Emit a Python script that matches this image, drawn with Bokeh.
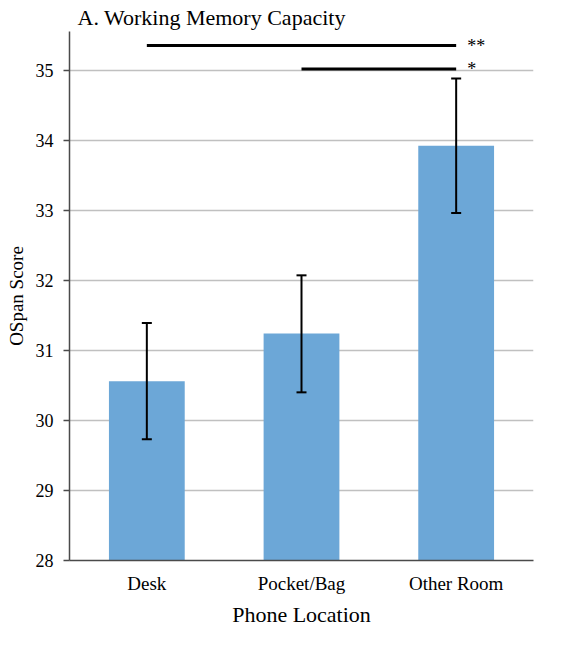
from bokeh.plotting import figure
from bokeh.models import ColumnDataSource, Range1d, FixedTicker, Whisker, TeeHead, FactorRange
from bokeh.embed import file_html
from bokeh.resources import INLINE

# ---- data ----
categories = ["Desk", "Pocket/Bag", "Other Room"]
ospan_mean = [30.56, 31.24, 33.92]
ospan_upper = [31.39, 32.07, 34.88]
ospan_lower = [29.73, 30.40, 32.96]
y_ticks = [28, 29, 30, 31, 32, 33, 34, 35]

sig_start = ["Desk", "Pocket/Bag"]
sig_end = ["Other Room", "Other Room"]
sig_level = [35.35, 35.015]
sig_label = ["**", "*"]

FONT = "Liberation Serif, serif"

p = figure(
    x_range=FactorRange(factors=categories, range_padding=0),
    y_range=Range1d(28, 35.55),
    width=556, height=629,
    output_backend="svg", toolbar_location=None,
    title="A. Working Memory Capacity",
    min_border_left=69, min_border_right=23, min_border_top=0, min_border_bottom=60,
)
p.outline_line_color = None
p.background_fill_color = "white"
p.border_fill_color = "white"

p.title.text_font = FONT
p.title.text_font_size = "22px"
p.title.text_font_style = "normal"
p.title.align = "left"
p.title.offset = 8
p.title.standoff = 4
p.title.text_color = "black"

src = ColumnDataSource(dict(cat=categories, mean=ospan_mean, upper=ospan_upper, lower=ospan_lower))
p.vbar(x="cat", top="mean", bottom=28, width=0.49, source=src,
       fill_color="#6CA7D7", line_color=None)

w = Whisker(base="cat", upper="upper", lower="lower", source=src, level="overlay",
            line_color="black", line_width=2,
            upper_head=TeeHead(size=10, line_color="black", line_width=2),
            lower_head=TeeHead(size=10, line_color="black", line_width=2))
p.add_layout(w)

sig_src = ColumnDataSource(dict(x0=sig_start, x1=sig_end, y=sig_level, lab=sig_label))
p.segment(x0="x0", y0="y", x1="x1", y1="y", source=sig_src, line_color="black", line_width=3)
p.text(x="x1", y="y", text="lab", source=sig_src, x_offset=11, y_offset=0,
       text_font={"value": FONT}, text_font_size={"value": "18px"},
       text_baseline="middle", text_align="left", text_color="black")

# axes
p.xgrid.grid_line_color = None
p.ygrid.ticker = FixedTicker(ticks=y_ticks)
p.ygrid.grid_line_color = "#C0C0C0"
p.ygrid.grid_line_width = 1.5

p.yaxis.ticker = FixedTicker(ticks=y_ticks)
p.yaxis.axis_label = "OSpan Score"
p.yaxis.axis_label_text_font = FONT
p.yaxis.axis_label_text_font_size = "19px"
p.yaxis.axis_label_text_font_style = "normal"
p.yaxis.axis_label_text_color = "black"
p.yaxis.axis_label_standoff = 6
p.yaxis.major_label_text_font = FONT
p.yaxis.major_label_text_font_size = "18px"
p.yaxis.major_label_text_color = "black"
p.yaxis.major_label_standoff = 10
p.yaxis.major_tick_out = 6
p.yaxis.major_tick_in = 0
p.yaxis.minor_tick_line_color = None
p.yaxis.axis_line_color = "#4A4A4A"
p.yaxis.axis_line_width = 1.5
p.yaxis.major_tick_line_color = "#4A4A4A"
p.yaxis.major_tick_line_width = 1.5

p.xaxis.axis_label = "Phone Location"
p.xaxis.axis_label_text_font = FONT
p.xaxis.axis_label_text_font_size = "22px"
p.xaxis.axis_label_text_font_style = "normal"
p.xaxis.axis_label_text_color = "black"
p.xaxis.axis_label_standoff = 5
p.xaxis.major_label_text_font = FONT
p.xaxis.major_label_text_font_size = "19px"
p.xaxis.major_label_text_color = "black"
p.xaxis.major_label_standoff = 12
p.xaxis.major_tick_line_color = None
p.xaxis.major_tick_out = 0
p.xaxis.major_tick_in = 0
p.xaxis.axis_line_color = "#4A4A4A"
p.xaxis.axis_line_width = 1.5

open("out.html", "w").write(file_html(p, INLINE))
